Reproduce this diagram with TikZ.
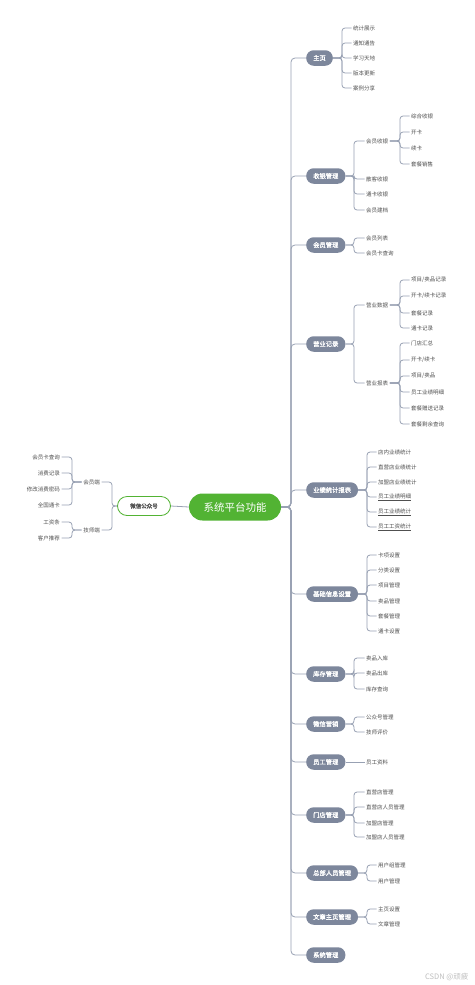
\documentclass[tikz,border=0pt]{standalone}
\usepackage{fontspec}
\setmainfont{Noto Sans CJK SC}[AutoFakeBold=1.5]
\definecolor{rootg}{HTML}{52B333}
\definecolor{nodeg}{HTML}{7D879C}
\definecolor{linec}{HTML}{98A1B3}
\definecolor{leafc}{HTML}{505050}
\begin{document}
\begin{tikzpicture}[x=1pt,y=-1pt]
\tikzset{
 lone/.style={fill=nodeg, text=white, rounded corners=7.5pt, minimum height=15.5pt, inner xsep=7pt, inner ysep=1pt, font=\fontsize{6.3}{7}\selectfont\bfseries, anchor=west},
 leaf/.style={text=leafc, font=\fontsize{5.5}{6}\selectfont, inner xsep=1.5pt, inner ysep=1pt, anchor=west},
 leafr/.style={leaf, anchor=east},
 conn/.style={draw=linec, line width=0.8pt, rounded corners=3pt},
 rootnode/.style={fill=rootg, text=white, rounded corners=13.5pt, minimum width=92pt, minimum height=27pt, font=\fontsize{10.5}{12}\selectfont},
 wxnode/.style={draw=rootg, fill=white, line width=0.8pt, text=leafc, rounded corners=9.5pt, minimum width=53pt, minimum height=19pt, font=\fontsize{5.5}{6}\selectfont\bfseries},
}
\useasboundingbox (0,0) rectangle (474,985);
\fill[white] (0,0) rectangle (474,985);
\newcommand{\brr}[3]{\foreach \c in {#3}{\draw[conn] (#1.east) -- (#1.east -| #2) |- (\c.west);}}
\newcommand{\brl}[3]{\foreach \c in {#3}{\draw[conn] (#1.west) -- (#1.west -| #2) |- (\c.east);}}
\coordinate (trunk) at (291,0);
\coordinate (bA) at (342,0);
\coordinate (bB) at (354,0);
\coordinate (bC) at (400,0);
\coordinate (bD) at (367,0);
\coordinate (lA) at (112,0);
\coordinate (lB) at (72,0);

% root
\node[rootnode] (root) at (235,507) {系统平台功能};

% level 1
\node[lone] (n1) at (306,58) {主页};
\node[lone] (n2) at (306,176) {收银管理};
\node[lone] (n3) at (306,245) {会员管理};
\node[lone] (n4) at (306,344) {营业记录};
\node[lone] (n5) at (306,490) {业绩统计报表};
\node[lone] (n6) at (306,594) {基础信息设置};
\node[lone] (n7) at (306,674) {库存管理};
\node[lone] (n8) at (306,724) {微信营销};
\node[lone] (n9) at (306,762) {员工管理};
\node[lone] (n10) at (306,815) {门店管理};
\node[lone] (n11) at (306,873) {总部人员管理};
\node[lone] (n12) at (306,917) {文章主页管理};
\node[lone] (n13) at (306,955) {系统管理};

\foreach \n in {n1,n2,n3,n4,n5,n6,n7,n8,n9,n10,n11,n12,n13}{
  \draw[conn, rounded corners=4pt] (root.east) -- (root.east -| trunk) |- (\n.west);
}

% 主页
\node[leaf] (a1) at (351.5,28) {统计展示};
\node[leaf] (a2) at (351.5,43) {通知通告};
\node[leaf] (a3) at (351.5,58) {学习天地};
\node[leaf] (a4) at (351.5,73) {版本更新};
\node[leaf] (a5) at (351.5,88) {案例分享};
\brr{n1}{bA}{a1,a2,a3,a4,a5}

% 收银管理
\node[leaf] (b1) at (364.5,141) {会员收银};
\node[leaf] (b2) at (364.5,179) {散客收银};
\node[leaf] (b3) at (364.5,194) {通卡收银};
\node[leaf] (b4) at (364.5,210) {会员建档};
\brr{n2}{bB}{b1,b2,b3,b4}
\node[leaf] (b11) at (409.5,116) {综合收银};
\node[leaf] (b12) at (409.5,132) {开卡};
\node[leaf] (b13) at (409.5,148) {续卡};
\node[leaf] (b14) at (409.5,164) {套餐销售};
\brr{b1}{bC}{b11,b12,b13,b14}

% 会员管理
\node[leaf] (c1) at (364.5,238) {会员列表};
\node[leaf] (c2) at (364.5,253) {会员卡查询};
\brr{n3}{bB}{c1,c2}

% 营业记录
\node[leaf] (d1) at (364.5,305) {营业数据};
\node[leaf] (d2) at (364.5,383) {营业报表};
\brr{n4}{bB}{d1,d2}
\node[leaf] (d11) at (409.5,280) {项目/卖品记录};
\node[leaf] (d12) at (409.5,296) {开卡/续卡记录};
\node[leaf] (d13) at (409.5,313) {套餐记录};
\node[leaf] (d14) at (409.5,328) {通卡记录};
\brr{d1}{bC}{d11,d12,d13,d14}
\node[leaf] (d21) at (409.5,343) {门店汇总};
\node[leaf] (d22) at (409.5,360) {开卡/续卡};
\node[leaf] (d23) at (409.5,376) {项目/卖品};
\node[leaf] (d24) at (409.5,392) {员工业绩明细};
\node[leaf] (d25) at (409.5,408) {套餐赠送记录};
\node[leaf] (d26) at (409.5,424) {套餐剩余查询};
\brr{d2}{bC}{d21,d22,d23,d24,d25,d26}

% 业绩统计报表
\node[leaf] (e1) at (376.5,452) {店内业绩统计};
\node[leaf] (e2) at (376.5,467) {直营店业绩统计};
\node[leaf] (e3) at (376.5,482) {加盟店业绩统计};
\node[leaf] (e4) at (376.5,497) {\underline{员工业绩明细}};
\node[leaf] (e5) at (376.5,512) {\underline{员工业绩统计}};
\node[leaf] (e6) at (376.5,527) {\underline{员工工资统计}};
\brr{n5}{bD}{e1,e2,e3,e4,e5,e6}

% 基础信息设置
\node[leaf] (f1) at (376.5,555) {卡项设置};
\node[leaf] (f2) at (376.5,570) {分类设置};
\node[leaf] (f3) at (376.5,585) {项目管理};
\node[leaf] (f4) at (376.5,601) {卖品管理};
\node[leaf] (f5) at (376.5,616) {套餐管理};
\node[leaf] (f6) at (376.5,631) {通卡设置};
\brr{n6}{bD}{f1,f2,f3,f4,f5,f6}

% 库存管理
\node[leaf] (g1) at (364.5,658) {卖品入库};
\node[leaf] (g2) at (364.5,673) {卖品出库};
\node[leaf] (g3) at (364.5,689) {库存查询};
\brr{n7}{bB}{g1,g2,g3}

% 微信营销
\node[leaf] (h1) at (364.5,717) {公众号管理};
\node[leaf] (h2) at (364.5,732) {技师评价};
\brr{n8}{bB}{h1,h2}

% 员工管理
\node[leaf] (i1) at (364.5,762) {员工资料};
\draw[conn] (n9.east) -- (i1.west);

% 门店管理
\node[leaf] (j1) at (364.5,792) {直营店管理};
\node[leaf] (j2) at (364.5,807) {直营店人员管理};
\node[leaf] (j3) at (364.5,823) {加盟店管理};
\node[leaf] (j4) at (364.5,837) {加盟店人员管理};
\brr{n10}{bB}{j1,j2,j3,j4}

% 总部人员管理
\node[leaf] (k1) at (376.5,865) {用户组管理};
\node[leaf] (k2) at (376.5,881) {用户管理};
\brr{n11}{bD}{k1,k2}

% 文章主页管理
\node[leaf] (m1) at (376.5,909) {主页设置};
\node[leaf] (m2) at (376.5,924) {文章管理};
\brr{n12}{bD}{m1,m2}

% left side
\node[wxnode] (wx) at (144,506) {微信公众号};
\draw[conn] (root.west) -- (wx.east);
\node[leafr] (p1) at (101.5,482) {会员端};
\node[leafr] (p2) at (101.5,530) {技师端};
\brl{wx}{lA}{p1,p2}
\node[leafr] (q1) at (61.5,457) {会员卡查询};
\node[leafr] (q2) at (61.5,473) {消费记录};
\node[leafr] (q3) at (61.5,489) {修改消费密码};
\node[leafr] (q4) at (61.5,505) {全国通卡};
\brl{p1}{lB}{q1,q2,q3,q4}
\node[leafr] (r1) at (61.5,522) {工资条};
\node[leafr] (r2) at (61.5,538) {客户推荐};
\brl{p2}{lB}{r1,r2}

% watermark
\node[text=black!25, font=\fontsize{7.5}{8}\selectfont, anchor=east] (wm) at (472,977) {CSDN @顽疲};
\end{tikzpicture}
\end{document}
